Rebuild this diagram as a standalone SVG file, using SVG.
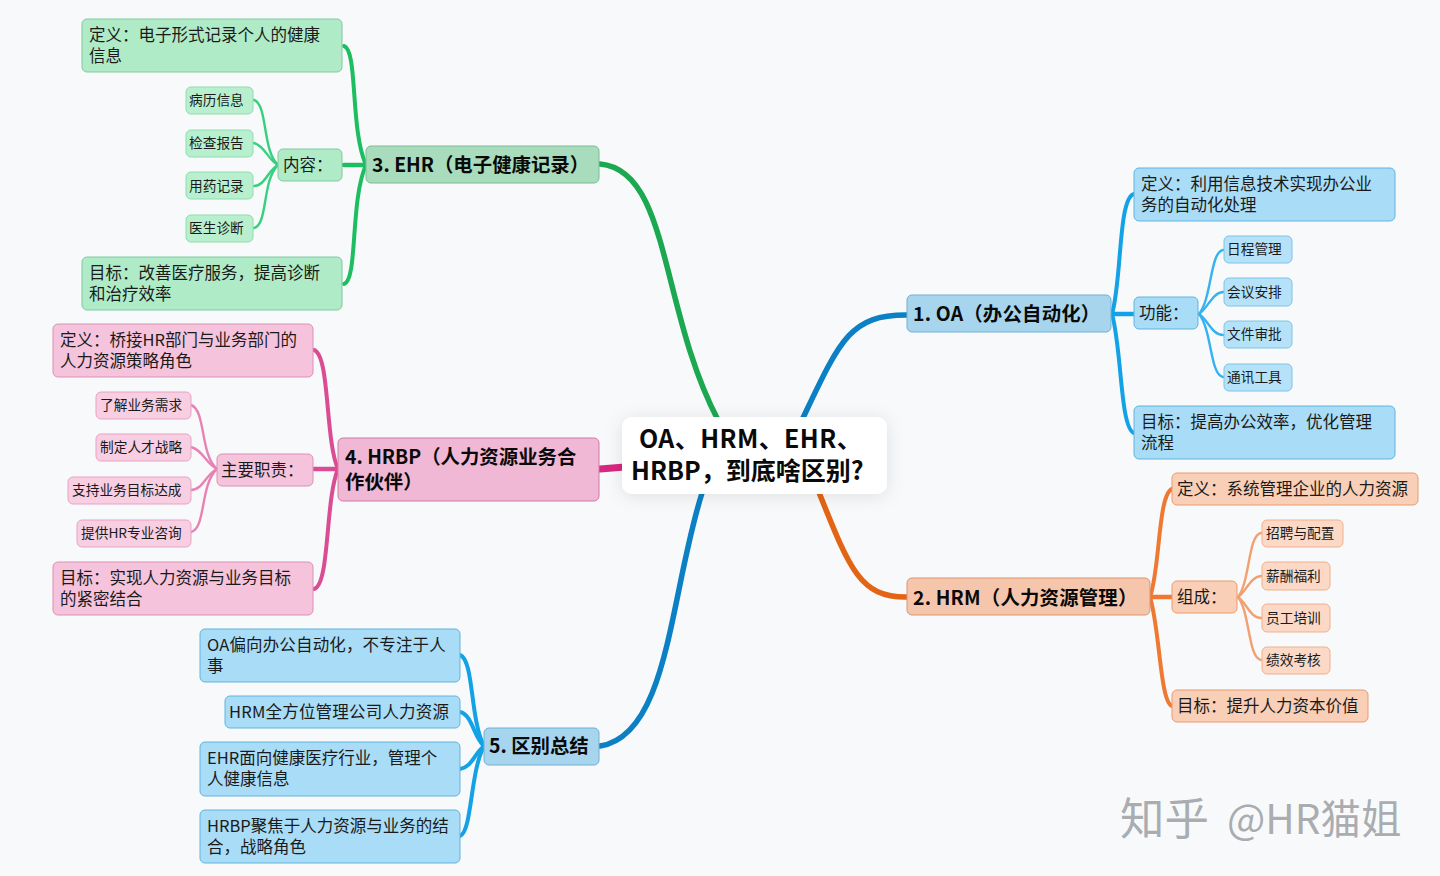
<svg xmlns="http://www.w3.org/2000/svg" width="1440" height="876" viewBox="0 0 1440 876">
<defs>
<filter id="sh" x="-20%" y="-40%" width="140%" height="180%"><feDropShadow dx="0" dy="2" stdDeviation="9" flood-color="#000" flood-opacity="0.10"/></filter>
</defs>
<style>
text{font-family:"Noto Sans CJK SC","Noto Sans",sans-serif;fill:#1a1a1a}
.t{font-size:16.5px}
.s{font-size:13.7px}
.h{font-size:19.4px;font-weight:700;fill:#0a0a0a}
.c{font-size:25px;font-weight:700;fill:#0a0a0a}
.w{fill:#a9adb1;stroke:#fff;stroke-width:.8;paint-order:stroke}
.n rect{stroke-width:1}
.gh rect{fill:#a9dcbc;stroke:#7cbc95}
.g rect{fill:#b0ebc7;stroke:#80c9a0}
.g2 rect{fill:#b8f0cf;stroke:#8fdcae}
.ph rect{fill:#f0b8d4;stroke:#cf7ba6}
.p rect{fill:#f5c4dc;stroke:#dd8fb6}
.p2 rect{fill:#f8cfe2;stroke:#e8a3c4}
.bh rect{fill:#a8d5ee;stroke:#6fb0d2}
.b rect{fill:#a9dcf6;stroke:#62b4dc}
.b2 rect{fill:#b5e2f8;stroke:#7cc4e6}
.oh rect{fill:#f6c6ac;stroke:#d99570}
.o rect{fill:#f9cfb7;stroke:#eb9b6c}
.o2 rect{fill:#fbd9c6;stroke:#efb08c}
#connectors path{fill:none;stroke-linecap:round}
</style>
<rect width="1440" height="876" fill="#f8f9fb"/>
<g id="connectors">
<g stroke-width="5.5">
<path d="M600 164C670 170 660 310 718 420" stroke="#1ba851"/>
<path d="M906 315C850 315 840 340 802 420" stroke="#0b80c4"/>
<path d="M906 597C860 597 850 570 818 490" stroke="#e36414"/>
<path d="M600 469L625 467" stroke="#d9267f" stroke-width="7"/>
<path d="M600 746C670 735 670 590 703 490" stroke="#0b80c4"/>
</g>
<g stroke="#1dbd61" stroke-width="4">
<path d="M344 46C358 50 350 130 366 165"/><path d="M344 165H366" stroke-width="4.5"/><path d="M344 284C358 280 350 200 366 165"/>
</g>
<g stroke="#36d07f" stroke-width="2.4">
<path d="M254 100C268 105 262 150 278 165"/><path d="M254 143C265 146 268 160 278 165"/><path d="M254 186C265 186 268 170 278 165"/><path d="M254 228C268 225 262 180 278 165"/>
</g>
<g stroke="#da4c94" stroke-width="4">
<path d="M314 350C330 355 325 440 338 469"/><path d="M314 469H338" stroke-width="4.5"/><path d="M314 589C330 585 325 500 338 469"/>
</g>
<g stroke="#e882b4" stroke-width="2.4">
<path d="M191 405C206 410 200 455 217 469"/><path d="M191 447C203 450 206 464 217 469"/><path d="M191 490C203 490 206 474 217 469"/><path d="M191 532C206 529 200 484 217 469"/>
</g>
<g stroke="#13a2e6" stroke-width="4">
<path d="M1134 194C1118 198 1122 280 1112 314"/><path d="M1112 314H1134" stroke-width="4.5"/><path d="M1134 433C1120 428 1122 350 1112 314"/>
</g>
<g stroke="#34b3ee" stroke-width="2.4">
<path d="M1223 250C1210 252 1212 298 1199 314"/><path d="M1223 292C1212 293 1208 308 1199 314"/><path d="M1223 335C1212 335 1208 320 1199 314"/><path d="M1223 377C1210 375 1212 330 1199 314"/>
</g>
<g stroke="#ee7a32" stroke-width="4">
<path d="M1172 489C1158 494 1160 570 1150 597"/><path d="M1150 597H1172" stroke-width="4.5"/><path d="M1172 706C1160 702 1160 630 1150 597"/>
</g>
<g stroke="#f2a070" stroke-width="2.4">
<path d="M1261 533C1248 535 1250 582 1238 597"/><path d="M1261 576C1250 577 1246 592 1238 597"/><path d="M1261 618C1250 618 1246 602 1238 597"/><path d="M1261 660C1248 658 1250 612 1238 597"/>
</g>
<g stroke="#13a2e6" stroke-width="4">
<path d="M460 655C474 660 470 720 484 746"/><path d="M460 712C472 714 474 738 484 746"/><path d="M460 769C472 767 474 754 484 746"/><path d="M460 836C472 832 470 772 484 746"/>
</g>
</g>
<g id="center"><rect x="622" y="417" width="265" height="77" rx="10" fill="#fff" filter="url(#sh)"/><text class="c"><tspan x="639" y="448" letter-spacing=".4">OA、HRM、EHR、</tspan><tspan x="631" y="480">HRBP，到底啥区别?</tspan></text></g>

<g id="ehr" class="n gh"><rect x="366" y="146" width="233" height="37" rx="5"/><text class="h" x="372" y="172">3. EHR（电子健康记录）</text></g>
<g id="ehr-def" class="n g"><rect x="82" y="19" width="260" height="53" rx="5"/><text class="t"><tspan x="89" y="41">定义：电子形式记录个人的健康</tspan><tspan x="89" y="62">信息</tspan></text></g>
<g id="ehr-content" class="n g"><rect x="278" y="149" width="64" height="32" rx="5"/><text class="t" x="283" y="171">内容：</text></g>
<g id="ehr-c1" class="n g2"><rect x="186" y="87" width="67" height="27" rx="5"/><text class="s" x="189" y="105">病历信息</text></g>
<g id="ehr-c2" class="n g2"><rect x="186" y="130" width="67" height="27" rx="5"/><text class="s" x="189" y="148">检查报告</text></g>
<g id="ehr-c3" class="n g2"><rect x="186" y="172" width="67" height="27" rx="5"/><text class="s" x="189" y="191">用药记录</text></g>
<g id="ehr-c4" class="n g2"><rect x="186" y="215" width="67" height="27" rx="5"/><text class="s" x="189" y="233">医生诊断</text></g>
<g id="ehr-goal" class="n g"><rect x="82" y="257" width="260" height="53" rx="5"/><text class="t"><tspan x="89" y="279">目标：改善医疗服务，提高诊断</tspan><tspan x="89" y="300">和治疗效率</tspan></text></g>

<g id="hrbp" class="n ph"><rect x="338" y="438" width="261" height="63" rx="5"/><text class="h"><tspan x="345" y="464">4. HRBP（人力资源业务合</tspan><tspan x="345" y="489">作伙伴）</tspan></text></g>
<g id="hrbp-def" class="n p"><rect x="53" y="324" width="260" height="53" rx="5"/><text class="t"><tspan x="60" y="346">定义：桥接HR部门与业务部门的</tspan><tspan x="60" y="367">人力资源策略角色</tspan></text></g>
<g id="hrbp-duty" class="n p"><rect x="217" y="454" width="96" height="32" rx="5"/><text class="t" x="221" y="476">主要职责：</text></g>
<g id="hrbp-d1" class="n p2"><rect x="96" y="392" width="95" height="27" rx="5"/><text class="s" x="100" y="410">了解业务需求</text></g>
<g id="hrbp-d2" class="n p2"><rect x="96" y="434" width="95" height="27" rx="5"/><text class="s" x="100" y="452">制定人才战略</text></g>
<g id="hrbp-d3" class="n p2"><rect x="68" y="477" width="123" height="27" rx="5"/><text class="s" x="72" y="495">支持业务目标达成</text></g>
<g id="hrbp-d4" class="n p2"><rect x="77" y="520" width="114" height="27" rx="5"/><text class="s" x="81" y="538">提供HR专业咨询</text></g>
<g id="hrbp-goal" class="n p"><rect x="53" y="562" width="260" height="53" rx="5"/><text class="t"><tspan x="60" y="584">目标：实现人力资源与业务目标</tspan><tspan x="60" y="605">的紧密结合</tspan></text></g>

<g id="summary" class="n bh"><rect x="484" y="728" width="115" height="37" rx="5"/><text class="h" x="489" y="753">5. 区别总结</text></g>
<g id="sum1" class="n b"><rect x="200" y="629" width="260" height="53" rx="5"/><text class="t"><tspan x="207" y="651" letter-spacing=".15">OA偏向办公自动化，不专注于人</tspan><tspan x="207" y="672">事</tspan></text></g>
<g id="sum2" class="n b"><rect x="225" y="696" width="235" height="32" rx="5"/><text class="t" x="229" y="718" letter-spacing=".2">HRM全方位管理公司人力资源</text></g>
<g id="sum3" class="n b"><rect x="200" y="742" width="260" height="54" rx="5"/><text class="t"><tspan x="207" y="764">EHR面向健康医疗行业，管理个</tspan><tspan x="207" y="785">人健康信息</tspan></text></g>
<g id="sum4" class="n b"><rect x="200" y="810" width="260" height="53" rx="5"/><text class="t"><tspan x="207" y="832">HRBP聚焦于人力资源与业务的结</tspan><tspan x="207" y="853">合，战略角色</tspan></text></g>

<g id="oa" class="n bh"><rect x="907" y="295" width="204" height="37" rx="5"/><text class="h" x="913" y="321" letter-spacing=".2">1. OA（办公自动化）</text></g>
<g id="oa-def" class="n b"><rect x="1134" y="168" width="261" height="53" rx="5"/><text class="t"><tspan x="1141" y="190">定义：利用信息技术实现办公业</tspan><tspan x="1141" y="211">务的自动化处理</tspan></text></g>
<g id="oa-func" class="n b"><rect x="1134" y="297" width="64" height="32" rx="5"/><text class="t" x="1139" y="319">功能：</text></g>
<g id="oa-f1" class="n b2"><rect x="1224" y="236" width="68" height="27" rx="5"/><text class="s" x="1227" y="254">日程管理</text></g>
<g id="oa-f2" class="n b2"><rect x="1224" y="278" width="68" height="28" rx="5"/><text class="s" x="1227" y="297">会议安排</text></g>
<g id="oa-f3" class="n b2"><rect x="1224" y="321" width="68" height="27" rx="5"/><text class="s" x="1227" y="339">文件审批</text></g>
<g id="oa-f4" class="n b2"><rect x="1224" y="364" width="68" height="27" rx="5"/><text class="s" x="1227" y="382">通讯工具</text></g>
<g id="oa-goal" class="n b"><rect x="1134" y="406" width="261" height="53" rx="5"/><text class="t"><tspan x="1141" y="428">目标：提高办公效率，优化管理</tspan><tspan x="1141" y="449">流程</tspan></text></g>

<g id="hrm" class="n oh"><rect x="907" y="578" width="243" height="37" rx="5"/><text class="h" x="913" y="605" letter-spacing=".2">2. HRM（人力资源管理）</text></g>
<g id="hrm-def" class="n o"><rect x="1172" y="473" width="246" height="32" rx="5"/><text class="t" x="1177" y="495">定义：系统管理企业的人力资源</text></g>
<g id="hrm-comp" class="n o"><rect x="1172" y="581" width="65" height="32" rx="5"/><text class="t" x="1177" y="603">组成：</text></g>
<g id="hrm-c1" class="n o2"><rect x="1262" y="520" width="81" height="27" rx="5"/><text class="s" x="1266" y="538">招聘与配置</text></g>
<g id="hrm-c2" class="n o2"><rect x="1262" y="562" width="68" height="28" rx="5"/><text class="s" x="1266" y="581">薪酬福利</text></g>
<g id="hrm-c3" class="n o2"><rect x="1262" y="604" width="68" height="28" rx="5"/><text class="s" x="1266" y="623">员工培训</text></g>
<g id="hrm-c4" class="n o2"><rect x="1262" y="647" width="68" height="27" rx="5"/><text class="s" x="1266" y="665">绩效考核</text></g>
<g id="hrm-goal" class="n o"><rect x="1172" y="690" width="196" height="32" rx="5"/><text class="t" x="1177" y="712">目标：提升人力资本价值</text></g>

<g id="watermark"><text class="w" x="1120" y="835" font-size="44.5">知乎</text><text class="w" x="1227" y="834" font-size="40.5">@HR猫姐</text></g>
</svg>
